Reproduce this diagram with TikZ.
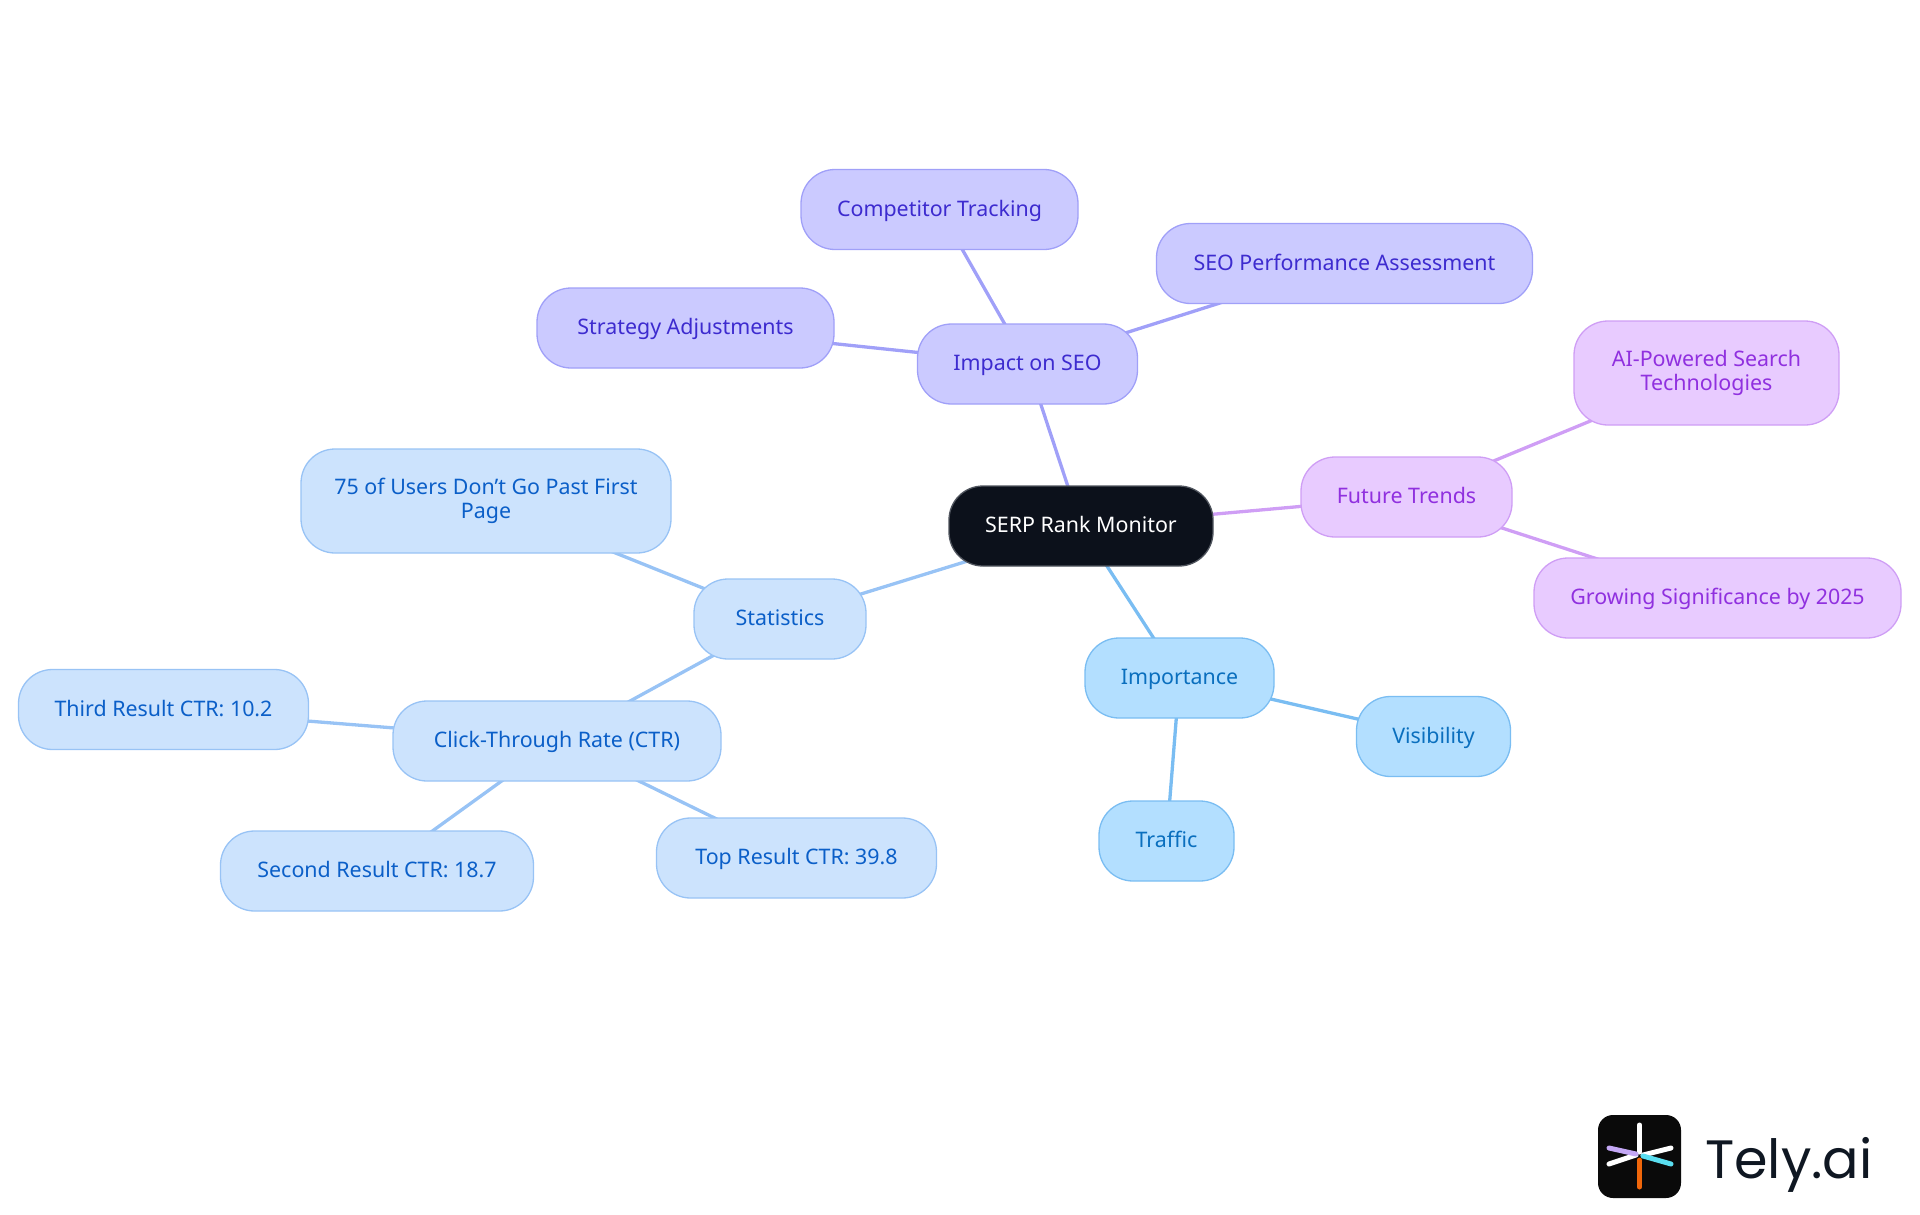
\documentclass[tikz,border=0pt]{standalone}
\usepackage{fontspec}
\setmainfont{Noto Sans}
\newfontfamily\logofont{Poppins}
\usetikzlibrary{backgrounds}
\newcommand\st{\rule[-5.5pt]{0pt}{24pt}}
\definecolor{rootfill}{HTML}{0C111B}
\definecolor{rootline}{HTML}{50555E}
\definecolor{bfill}{HTML}{CCE3FD}
\definecolor{bline}{HTML}{98C3F5}
\definecolor{btext}{HTML}{0B5FC8}
\definecolor{cfill}{HTML}{B3DFFF}
\definecolor{cline}{HTML}{7ABDF2}
\definecolor{ctext}{HTML}{0A6FBE}
\definecolor{ifill}{HTML}{CBCAFF}
\definecolor{iline}{HTML}{A0A0F8}
\definecolor{itext}{HTML}{3D2BCF}
\definecolor{ffill}{HTML}{E8CBFF}
\definecolor{fline}{HTML}{CF9EF5}
\definecolor{ftext}{HTML}{9030DF}
\definecolor{logoblack}{HTML}{0A0A0A}
\definecolor{logotext}{HTML}{0F1722}
\tikzset{
  mm/.style={rectangle,rounded corners=34pt,line width=1.3pt,inner sep=0pt,align=center,
    font=\fontsize{21.4}{24.5}\selectfont,
    execute at begin node=\st,execute at end node=\st},
  rootn/.style={mm,fill=rootfill,draw=rootline,text=white},
  bluen/.style={mm,fill=bfill,draw=bline,text=btext},
  cyann/.style={mm,fill=cfill,draw=cline,text=ctext},
  impn/.style={mm,fill=ifill,draw=iline,text=itext},
  futn/.style={mm,fill=ffill,draw=fline,text=ftext},
  bedge/.style={draw=bline,line width=3.3pt},
  cedge/.style={draw=cline,line width=3.3pt},
  iedge/.style={draw=iline,line width=3.3pt},
  fedge/.style={draw=fline,line width=3.3pt},
  ray/.style={line width=5pt,line cap=round},
  size/.style 2 args={minimum width=#1pt,minimum height=#2pt},
}
\begin{document}
\begin{tikzpicture}[x=1pt,y=-1pt]
\useasboundingbox (0,0) rectangle (1920,1215);
\node[rootn,size={264}{80}] (root) at (1081,526) {SERP Rank Monitor};
\node[cyann,size={189}{80}] (imp) at (1179.5,678) {Importance};
\node[cyann,size={154}{80}] (vis) at (1433.5,736.5) {Visibility};
\node[cyann,size={135}{80}] (tra) at (1166.5,841) {Traffic};
\node[futn,size={211}{80}] (fut) at (1406.5,497) {Future Trends};
\node[futn,size={265}{104}] (ai) at (1706.5,373) {AI-Powered Search\\Technologies};
\node[futn,size={367}{80}] (gro) at (1717.5,598) {Growing Significance by 2025};
\node[impn,size={220}{80}] (seo) at (1027.5,364) {Impact on SEO};
\node[impn,size={277}{80}] (com) at (939.5,209.5) {Competitor Tracking};
\node[impn,size={376}{80}] (per) at (1344.5,263.5) {SEO Performance Assessment};
\node[impn,size={297}{80}] (str) at (685.5,328) {Strategy Adjustments};
\node[bluen,size={172}{80}] (sta) at (780,619) {Statistics};
\node[bluen,size={370}{104}] (pag) at (486,501) {75 of Users Don't Go Past First\\Page};
\node[bluen,size={328}{80}] (ctr) at (557,741) {Click-Through Rate (CTR)};
\node[bluen,size={290}{80}] (thi) at (163.5,709.5) {Third Result CTR: 10.2};
\node[bluen,size={313}{80}] (sec) at (377,871) {Second Result CTR: 18.7};
\node[bluen,size={280}{80}] (top) at (796.5,858) {Top Result CTR: 39.8};
\begin{scope}[on background layer]
\draw[cedge] (root.center) -- (imp.center);
\draw[cedge] (imp.center) -- (vis.center);
\draw[cedge] (imp.center) -- (tra.center);
\draw[fedge] (root.center) -- (fut.center);
\draw[fedge] (fut.center) -- (ai.center);
\draw[fedge] (fut.center) -- (gro.center);
\draw[iedge] (root.center) -- (seo.center);
\draw[iedge] (seo.center) -- (com.center);
\draw[iedge] (seo.center) -- (per.center);
\draw[iedge] (seo.center) -- (str.center);
\draw[bedge] (root.center) -- (sta.center);
\draw[bedge] (sta.center) -- (pag.center);
\draw[bedge] (sta.center) -- (ctr.center);
\draw[bedge] (ctr.center) -- (thi.center);
\draw[bedge] (ctr.center) -- (sec.center);
\draw[bedge] (ctr.center) -- (top.center);
\end{scope}
% logo
\fill[logoblack,rounded corners=15pt] (1598,1115) rectangle (1681,1198);
\draw[ray,white] (1639.5,1152) -- (1639.5,1125);
\draw[ray,white] (1636,1155) -- (1609,1164);
\draw[ray,white] (1643,1155) -- (1671,1148);
\draw[ray,color={rgb,255:red,196;green,168;blue,245}] (1636,1154) -- (1609,1148);
\draw[ray,color={rgb,255:red,90;green,222;blue,240}] (1643,1156) -- (1671,1164);
\draw[ray,color={rgb,255:red,240;green,102;blue,10}] (1639.5,1160) -- (1639.5,1187);
\node[anchor=base west,inner sep=0pt,text=logotext,font=\logofont\fontsize{54}{54}\selectfont] (logo) at (1705,1178) {Tely.ai};
\end{tikzpicture}
\end{document}
